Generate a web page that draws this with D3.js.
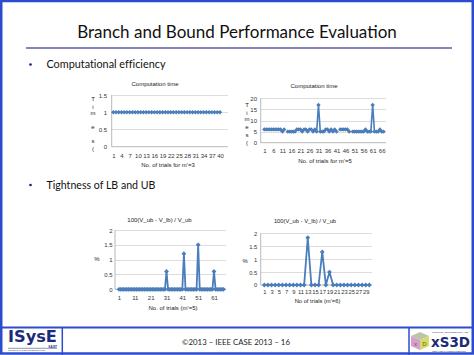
<!DOCTYPE html>
<html><head><meta charset="utf-8">
<script src="https://cdn.jsdelivr.net/npm/d3@7"></script>
<style>body{margin:0;background:#fff;} svg{display:block}</style>
</head><body><svg id="s" width="474" height="355"></svg>
<script>
// ---------- data ----------
const slideTitle = "Branch and Bound Performance Evaluation";
const bulletTexts = ["Computational efficiency", "Tightness of LB and UB"];
const footerText = "©2013 – IEEE CASE 2013 – 16";

const c1Title = "Computation time";
const c1XLabel = "No. of trials for m'=3";
const c1Values = [1,1,1,1,1,1,1,1,1,1,1,1,1,1,1,1,1,1,1,1,1,1,1,1,1,1,1,1,1,1,1,1,1,1,1,1,1,1,1,1];
const c1YTicks = [0, 0.5, 1, 1.5];
const c1XTicks = [1,4,7,10,13,16,19,22,25,28,31,34,37,40];

const c2Title = "Computation time";
const c2XLabel = "No. of trials for m'=5";
const c2Values = [6,6,6,6,6,6,6,6,6,6,5,6,null,5,5,5,5,5,6,6,6,5,6,6,5,6,6,5,6,5,
                  17,5,5,5,6,6,5,6,5,6,5,null,6,6,6,6,6,5,null,5,5,5,5,5,5,5,6,5,5,5,
                  17,5,5,5,6,5,5];
const c2YTicks = [0, 5, 10, 15, 20];
const c2XTicks = [1,6,11,16,21,26,31,36,41,46,51,56,61,66];

const c3Title = "100(V_ub - V_lb) / V_ub";
const c3XLabel = "No. of trials  (m'=5)";
const c3Values = [0,0,0,0,0,0,0,0,0,0,0,0,0,0,0,0,0,0,0,0,0,0,0,0,0,0,0,0,0,0,
                  0.6,0,0,0,0,0,0,0,0,0,0,1.2,0,0,0,0,0,0,0,0,1.5,0,0,0,0,0,0,0,0,0,
                  0.6,0,0,0,0,0,0];
const c3YTicks = [0, 0.5, 1, 1.5, 2];
const c3XTicks = [1,11,21,31,41,51,61];

const c4Title = "100(V_ub - V_lb) / V_ub";
const c4XLabel = "No of trials (m'=6)";
const c4Values = [0,0,0,0,0,0,0,0,0,0,0,0,1.83,0,0,0,1.28,0,0.5,0,0,0,0,0,0,0,0,0,0,0];
const c4YTicks = [0, 0.5, 1, 1.5, 2];
const c4XTicks = [1,3,5,7,9,11,13,15,17,19,21,23,25,27,29];

const timeLetters = ["T","i","m","e","s","("];
const pctLetters = ["%"];

// ---------- layout ----------
const svg = d3.select("#s");
const BLUE = "#2c4ccf";
const NAVY = "#1b2a7a";
const SERIES = "#4a7ebb";
const TXT = "Lato, 'Open Sans', sans-serif";
const CF = "'Liberation Sans', Arial, sans-serif";

function fitWidth(sel, w){
  const n = sel.node();
  let fs = parseFloat(sel.attr("font-size"));
  const cur = n.getComputedTextLength();
  if (cur > 0) sel.attr("font-size", (fs * w / cur).toFixed(2));
  return sel;
}

svg.append("rect").attr("width",474).attr("height",355).attr("fill","#fff");

// title
fitWidth(svg.append("text").attr("x",237).attr("y",38).attr("text-anchor","middle")
  .attr("font-family",TXT).attr("font-size",19).attr("fill","#111").text(slideTitle), 320);
svg.append("line").attr("x1",26).attr("x2",452).attr("y1",48).attr("y2",48)
  .attr("stroke","#5b5ca0").attr("stroke-width",1.4);

// bullets
const bulletY = [68, 188.5];
const bulletW = [119, 109];
bulletTexts.forEach((t,i)=>{
  svg.append("circle").attr("cx",30.5).attr("cy",bulletY[i]-3.5).attr("r",1.3).attr("fill","#1a1a8a");
  fitWidth(svg.append("text").attr("x",46.5).attr("y",bulletY[i]).attr("font-family",TXT)
    .attr("font-size",11).attr("fill","#111").style("font-variant-ligatures","none").text(t), bulletW[i]);
});

// ---------- charts ----------
function chart(cfg){
  const g = svg.append("g");
  const x = d3.scaleLinear().domain([cfg.xi0, cfg.xi1]).range([cfg.xp0, cfg.xp1]);
  const y = d3.scaleLinear().domain([cfg.yTicks[0], cfg.yTicks[cfg.yTicks.length-1]]).range([cfg.yb, cfg.yt]);
  const ya = d3.axisLeft(y).tickValues(cfg.yTicks).tickSize(0).tickPadding(0)
    .tickFormat(d3.format("~g"));
  const yg = g.append("g").attr("transform",`translate(${cfg.labR},0)`).call(ya);
  yg.select(".domain").remove();
  yg.selectAll("text").attr("font-family",CF).attr("font-size",cfg.fs).attr("fill","#333").attr("dy","0.34em").attr("x",0);
  g.selectAll("line.grid").data(cfg.yTicks.slice(1)).join("line").attr("class","grid")
    .attr("x1",cfg.pl).attr("x2",cfg.pr).attr("y1",d=>Math.round(y(d))+0.5).attr("y2",d=>Math.round(y(d))+0.5)
    .attr("stroke","#d4d4d4").attr("stroke-width",0.8);
  g.append("line").attr("x1",cfg.pl).attr("x2",cfg.pl).attr("y1",y(cfg.yTicks[cfg.yTicks.length-1])).attr("y2",cfg.yb)
    .attr("stroke","#a6a6a6").attr("stroke-width",0.8);
  g.append("line").attr("x1",cfg.pl).attr("x2",cfg.pr).attr("y1",cfg.yb).attr("y2",cfg.yb)
    .attr("stroke","#a6a6a6").attr("stroke-width",0.8);
  const xa = d3.axisBottom(x).tickValues(cfg.xTicks).tickSize(0).tickPadding(0).tickFormat(d3.format("d"));
  const xg = g.append("g").attr("transform",`translate(0,${cfg.tly})`).call(xa);
  xg.select(".domain").remove();
  xg.selectAll("text").attr("font-family",CF).attr("font-size",cfg.fs).attr("fill","#333").attr("dy",0).attr("y",0);
  g.append("text").attr("x",cfg.tx).attr("y",cfg.ty).attr("text-anchor","middle").attr("font-family",CF)
    .attr("font-size",cfg.fs).attr("fill","#222").text(cfg.title);
  g.append("text").attr("x",cfg.lx).attr("y",cfg.ly).attr("text-anchor","middle").attr("font-family",CF)
    .attr("font-size",cfg.fs).attr("fill","#222").text(cfg.xLabel);
  cfg.letters.forEach((c,i)=>{
    g.append("text").attr("x",cfg.yLetX).attr("y",cfg.yLetY[i]).attr("text-anchor","middle")
      .attr("font-family",CF).attr("font-size",cfg.fs).attr("fill","#222").text(c);
  });
  const pts = cfg.values.map((v,i)=>({i:i+1,v}));
  const line = d3.line().defined(d=>d.v!==null).x(d=>x(d.i)).y(d=>y(d.v));
  g.append("path").attr("d",line(pts)).attr("fill","none").attr("stroke",SERIES)
    .attr("stroke-width",cfg.lw).attr("stroke-linejoin","round");
  const r = cfg.mr;
  g.selectAll("path.m").data(pts.filter(d=>d.v!==null)).join("path").attr("class","m")
    .attr("d",`M0,${-r}L${r},0L0,${r}L${-r},0Z`)
    .attr("transform",d=>`translate(${x(d.i)},${y(d.v)})`).attr("fill",SERIES);
}

chart({values:c1Values,yTicks:c1YTicks,xTicks:c1XTicks,title:c1Title,xLabel:c1XLabel,
  xi0:1,xi1:40,xp0:113.3,xp1:220,yb:146.7,yt:95,pl:111.7,pr:228,labR:107,
  tly:157.5,tx:155,ty:85.5,lx:168,ly:166.5,fs:6,letters:timeLetters,yLetX:93,
  yLetY:[101,108.5,114.5,129,143,150.5],lw:1.6,mr:2.2});

chart({values:c2Values,yTicks:c2YTicks,xTicks:c2XTicks,title:c2Title,xLabel:c2XLabel,
  xi0:1,xi1:66,xp0:264.3,xp1:381.7,yb:142.7,yt:98.3,pl:260.7,pr:386,labR:257,
  tly:153,tx:314,ty:88,lx:325,ly:162.5,fs:6,letters:timeLetters,yLetX:247,
  yLetY:[107,114.5,121,128.5,137,144.5],lw:1.6,mr:2.2});

chart({values:c3Values,yTicks:c3YTicks,xTicks:c3XTicks,title:c3Title,xLabel:c3XLabel,
  xi0:1,xi1:61,xp0:119,xp1:214,yb:289.3,yt:230,pl:115,pr:226,labR:112.7,
  tly:299.5,tx:159.5,ty:222,lx:173,ly:310,fs:6,letters:pctLetters,yLetX:97,
  yLetY:[261],lw:1.8,mr:2.4});

chart({values:c4Values,yTicks:c4YTicks,xTicks:c4XTicks,title:c4Title,xLabel:c4XLabel,
  xi0:1,xi1:29,xp0:264.3,xp1:365.7,yb:285,yt:233.3,pl:260.7,pr:372,labR:257.3,
  tly:294,tx:305,ty:223,lx:317.5,ly:302.5,fs:5.8,letters:pctLetters,yLetX:245,
  yLetY:[263],lw:1.8,mr:2.4});

// ---------- footer ----------
svg.append("line").attr("x1",0).attr("x2",474).attr("y1",327.5).attr("y2",327.5).attr("stroke",BLUE).attr("stroke-width",2);
svg.append("line").attr("x1",62.3).attr("x2",62.3).attr("y1",327).attr("y2",355).attr("stroke",BLUE).attr("stroke-width",1.5);
svg.append("line").attr("x1",409).attr("x2",409).attr("y1",327).attr("y2",355).attr("stroke",BLUE).attr("stroke-width",1.5);
fitWidth(svg.append("text").attr("x",236).attr("y",345).attr("text-anchor","middle").attr("font-family",TXT)
  .attr("font-size",9).attr("fill","#222").text(footerText), 108);

// ISysE logo
fitWidth(svg.append("text").attr("x",8).attr("y",342).attr("font-family","'DejaVu Sans', sans-serif")
  .attr("font-weight","bold").attr("font-size",13).attr("fill",NAVY).text("ISysE"), 49);
svg.append("text").attr("x",57).attr("y",347.6).attr("text-anchor","end").attr("font-family",CF)
  .attr("font-weight","bold").attr("font-size",2.8).attr("fill",NAVY).text("KAIST");
svg.append("line").attr("x1",8).attr("x2",57).attr("y1",348.3).attr("y2",348.3).attr("stroke",NAVY).attr("stroke-width",0.5);
svg.append("text").attr("x",8).attr("y",351.3).attr("font-family",CF).attr("font-size",2.5).attr("fill","#445")
  .text("Industrial & Systems Engineering");

// xS3D logo
const cube = svg.append("g").attr("transform","translate(420,341)");
cube.append("path").attr("d","M0,-9L9,-5L0,-1L-9,-5Z").attr("fill","#b9c6a8");
cube.append("path").attr("d","M-9,-5L0,-1L0,9L-9,5Z").attr("fill","#d6a0c8");
cube.append("path").attr("d","M0,-1L9,-5L9,5L0,9Z").attr("fill","#d6da6a");
cube.append("text").attr("x",-4.5).attr("y",5).attr("text-anchor","middle").attr("font-family",CF).attr("font-size",6).attr("fill","#7a4a8a").text("x");
cube.append("text").attr("x",4.5).attr("y",5).attr("text-anchor","middle").attr("font-family",CF).attr("font-size",6).attr("fill","#5a6a2a").text("D");
fitWidth(svg.append("text").attr("x",431).attr("y",346.5).attr("font-family","'DejaVu Sans', sans-serif")
  .attr("font-weight","bold").attr("font-size",12).attr("fill",NAVY).text("xS3D"), 39);
svg.append("text").attr("x",432).attr("y",333).attr("font-family",CF).attr("font-size",2.5).attr("fill","#445").text("COMPLEX ENGINEERING AND");
svg.append("text").attr("x",432).attr("y",351.5).attr("font-family",CF).attr("font-size",2.5).attr("fill","#445").text("SERVICE SYSTEMS DESIGN");

// slide border
svg.append("rect").attr("x",1.25).attr("y",1).attr("width",471.5).attr("height",352.5)
  .attr("fill","none").attr("stroke",BLUE).attr("stroke-width",2.5);
</script></body></html>
